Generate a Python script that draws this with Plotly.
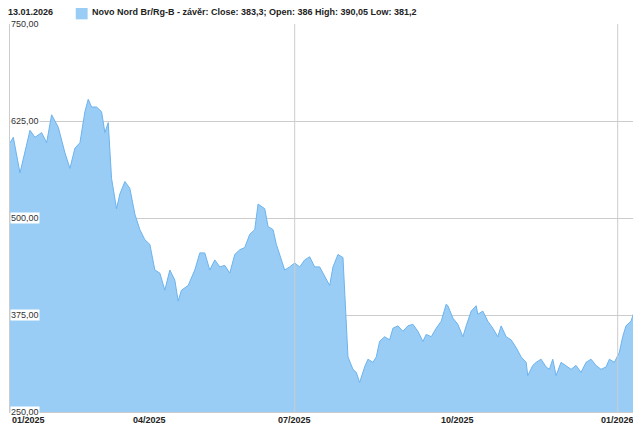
import plotly.graph_objects as go

dates = ["2025-01-01","2025-01-03","2025-01-07","2025-01-10","2025-01-13","2025-01-16","2025-01-20","2025-01-23","2025-01-26","2025-01-30",
"2025-02-03","2025-02-06","2025-02-09","2025-02-12","2025-02-15","2025-02-17","2025-02-19","2025-02-22","2025-02-25","2025-02-27",
"2025-03-01","2025-03-03","2025-03-06","2025-03-08","2025-03-11","2025-03-14","2025-03-17","2025-03-20","2025-03-23","2025-03-26","2025-03-29",
"2025-04-01","2025-04-04","2025-04-07","2025-04-10","2025-04-12","2025-04-14","2025-04-18","2025-04-22","2025-04-25","2025-04-28",
"2025-05-01","2025-05-04","2025-05-07","2025-05-10","2025-05-13","2025-05-16","2025-05-19","2025-05-22","2025-05-25","2025-05-28","2025-05-30",
"2025-06-02","2025-06-03","2025-06-05","2025-06-08","2025-06-10","2025-06-12","2025-06-15","2025-06-18","2025-06-21","2025-06-24","2025-06-27","2025-06-30",
"2025-07-03","2025-07-06","2025-07-09","2025-07-12","2025-07-14","2025-07-17","2025-07-20","2025-07-22","2025-07-23","2025-07-26","2025-07-28","2025-07-30",
"2025-08-02","2025-08-04","2025-08-07","2025-08-09","2025-08-11","2025-08-14","2025-08-17","2025-08-19","2025-08-22","2025-08-25","2025-08-28","2025-08-31",
"2025-09-03","2025-09-06","2025-09-08","2025-09-11","2025-09-14","2025-09-17","2025-09-20","2025-09-21","2025-09-24","2025-09-27","2025-09-30",
"2025-10-02","2025-10-05","2025-10-08","2025-10-09","2025-10-12","2025-10-15","2025-10-18","2025-10-21","2025-10-23","2025-10-26","2025-10-29",
"2025-11-01","2025-11-04","2025-11-07","2025-11-08","2025-11-11","2025-11-13","2025-11-16","2025-11-19","2025-11-21","2025-11-23","2025-11-25","2025-11-28",
"2025-12-01","2025-12-04","2025-12-07","2025-12-10","2025-12-13","2025-12-16","2025-12-19","2025-12-22","2025-12-25","2025-12-27","2025-12-30",
"2026-01-02","2026-01-04","2026-01-06","2026-01-09","2026-01-11","2026-01-12"]
close = [597,604,558,584,613,604,610,597,633,617,
584,564,590,597,637,653,643,643,637,610,
623,551,512,531,547,538,505,485,472,466,433,
429,407,433,420,393,407,413,433,455,455,
433,446,437,439,429,453,459,462,479,485,518,
514,512,489,485,466,453,433,437,442,437,446,450,
437,437,424,413,437,453,449,360,321,305,301,288,
308,318,314,321,341,347,343,358,361,354,361,363,
354,341,350,347,358,367,389,387,371,363,347,
361,380,387,376,380,367,358,347,361,347,343,
333,321,314,297,310,314,318,308,305,318,297,314,
310,305,310,301,314,318,310,305,308,318,314,
327,347,361,367,380,383]

ytick_vals = [250, 375, 500, 625, 750]
ytick_text = ["250,00", "375,00", "500,00", "625,00", "750,00"]
# month label positions as the reference's axis places them
xtick_vals = ["2025-01-01", "2025-03-26", "2025-06-21", "2025-09-27", "2026-01-01"]
xtick_text = ["01/2025", "04/2025", "07/2025", "10/2025", "01/2026"]
vgrid = ["2025-06-21", "2026-01-01"]

fig = go.Figure(go.Scatter(x=dates, y=close, mode="lines", fill="tozeroy",
    line=dict(color="#6db3ee", width=1), fillcolor="#99cdf5", hoverinfo="skip"))

annotations = [dict(x=0, xref="paper", y=v, yref="y", text=t, showarrow=False,
    xanchor="left", yanchor="middle", bgcolor="white", font=dict(size=9, color="#333"),
    borderpad=0) for v, t in zip(ytick_vals, ytick_text)]
for i, (v, t) in enumerate(zip(xtick_vals, xtick_text)):
    annotations.append(dict(x=v, xref="x", y=0, yref="paper", yanchor="top", yshift=-1,
        xanchor="left" if i == 0 else "center", text="<b>" + t + "</b>", showarrow=False,
        font=dict(size=9, color="#222")))
annotations += [
    dict(x=0.0, y=1.0, xref="paper", yref="paper", yanchor="bottom", xanchor="left", yshift=5,
         text="<b>13.01.2026</b>", showarrow=False, font=dict(size=9, color="#222"), xshift=-4),
    dict(x=0.128, y=1.0, xref="paper", yref="paper", yanchor="bottom", xanchor="left", yshift=5,
         text="<b>Novo Nord Br/Rg-B - závěr: Close: 383,3; Open: 386 High: 390,05 Low: 381,2</b>",
         showarrow=False, font=dict(size=9, color="#222")),
]
shapes = [dict(type="rect", xref="paper", yref="paper", x0=0.105, x1=0.124, y0=1.012, y1=1.055,
               fillcolor="#99cdf5", line=dict(width=0))]
for d in vgrid:
    shapes.append(dict(type="line", xref="x", yref="paper", x0=d, x1=d, y0=0, y1=1,
                       line=dict(color="#cccccc", width=1), layer="above"))

fig.update_layout(
    width=633, height=416, margin=dict(l=2, r=5, t=16, b=12),
    paper_bgcolor="white", plot_bgcolor="white", showlegend=False,
    font=dict(family="Liberation Sans, Arial", size=9, color="#222"),
    annotations=annotations, shapes=shapes,
    xaxis=dict(range=["2025-01-01", "2026-01-12"], showticklabels=False,
               showgrid=False, ticks="", showline=True, linecolor="#cccccc"),
    yaxis=dict(range=[250, 750], tickvals=ytick_vals, showticklabels=False,
               showgrid=True, gridcolor="#cccccc", zeroline=False,
               showline=True, linecolor="#cccccc"),
)
fig.write_html("out.html")
